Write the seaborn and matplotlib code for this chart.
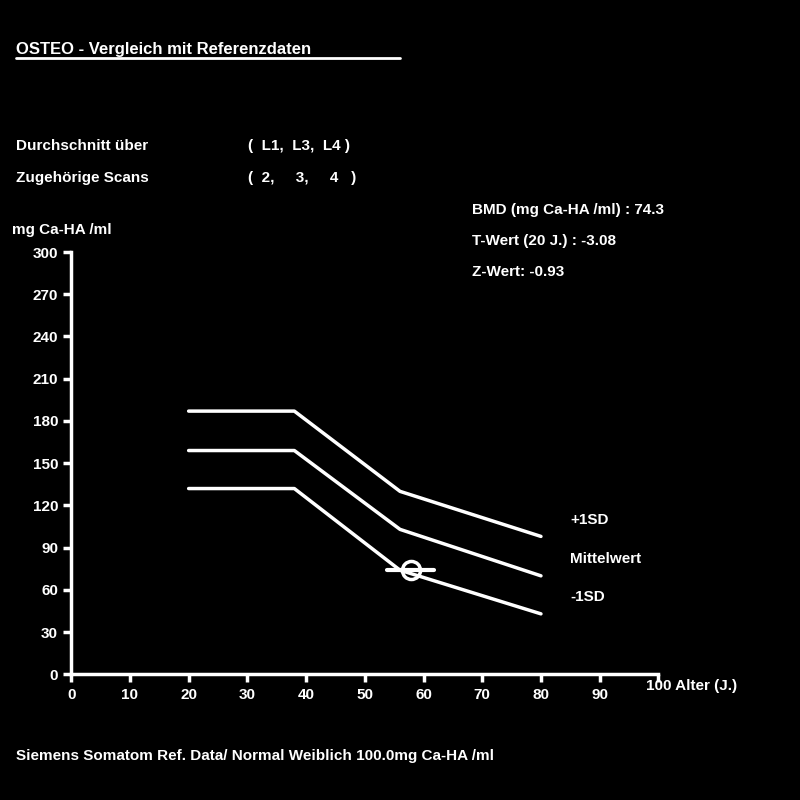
import numpy as np
import pandas as pd
import seaborn as sns
import matplotlib.pyplot as plt

sns.set_style('dark')
plt.rcParams['font.family'] = ['Liberation Sans', 'DejaVu Sans']

# reference curves
ages = [20, 38, 56, 80]
plus_sd = [187, 187, 130, 98]
mean_vals = [159, 159, 103, 70]
minus_sd = [132, 132, 74, 43]
patient_age = 57.8
patient_bmd = 74.3
x_ticks = [0, 10, 20, 30, 40, 50, 60, 70, 80, 90, 100]
y_ticks = [0, 30, 60, 90, 120, 150, 180, 210, 240, 270, 300]

df = pd.DataFrame({'age': ages * 3,
                   'bmd': plus_sd + mean_vals + minus_sd,
                   'curve': ['+1SD'] * 4 + ['Mittelwert'] * 4 + ['-1SD'] * 4})

fig = plt.figure(figsize=(8, 8), dpi=100, facecolor='black')
ax = fig.add_axes([0.089, 0.157, 0.734, 0.528])
ax.set_facecolor('black')
sns.lineplot(data=df, x='age', y='bmd', units='curve', estimator=None,
             color='white', lw=2.5, ax=ax)
ax.plot([patient_age - 4, patient_age + 4], [patient_bmd, patient_bmd], color='white', lw=3)
ax.plot([patient_age], [patient_bmd], 'o', ms=13, mfc='none', mec='white', mew=2.5)

ax.set_xlim(0, 100)
ax.set_ylim(0, 300)
ax.set_xticks(x_ticks)
ax.set_yticks(y_ticks)
ax.set_xticklabels([str(t) for t in x_ticks[:-1]] + [''])
ax.set_xlabel('')
ax.set_ylabel('')
ax.grid(False)
for s in ['top', 'right']:
    ax.spines[s].set_visible(False)
for s in ['left', 'bottom']:
    ax.spines[s].set_color('white')
    ax.spines[s].set_linewidth(2.5)
ax.tick_params(colors='white', labelsize=11, width=2.5, length=6, direction='out', left=True, bottom=True)
for lab in ax.get_xticklabels() + ax.get_yticklabels():
    lab.set_fontweight('bold')

tk = dict(color='white', fontsize=11, fontweight='bold')
for y, name in zip([plus_sd[-1], mean_vals[-1], minus_sd[-1]], ['+1SD', 'Mittelwert', '-1SD']):
    ax.text(85, y + 12, name, va='center', **tk)
fig.text(0.808, 0.137, '100 Alter (J.)', **tk)

fig.text(0.02, 0.933, 'OSTEO - Vergleich mit Referenzdaten ', color='white', fontsize=12, fontweight='bold')
fig.add_artist(plt.Line2D([0.02, 0.5], [0.927, 0.927], color='white', lw=2))
fig.text(0.02, 0.812, 'Durchschnitt über', **tk)
fig.text(0.02, 0.772, 'Zugehörige Scans', **tk)
fig.text(0.31, 0.812, '(  L1,  L3,  L4 )', **tk)
fig.text(0.31, 0.772, '(  2,     3,     4   )', **tk)
fig.text(0.59, 0.732, 'BMD (mg Ca-HA /ml) : 74.3', **tk)
fig.text(0.59, 0.694, 'T-Wert (20 J.) : -3.08', **tk)
fig.text(0.59, 0.655, 'Z-Wert: -0.93', **tk)
fig.text(0.015, 0.708, 'mg Ca-HA /ml', **tk)
fig.text(0.02, 0.05, 'Siemens Somatom Ref. Data/ Normal Weiblich 100.0mg Ca-HA /ml', **tk)

fig.savefig('out.png', dpi=100, facecolor='black')
